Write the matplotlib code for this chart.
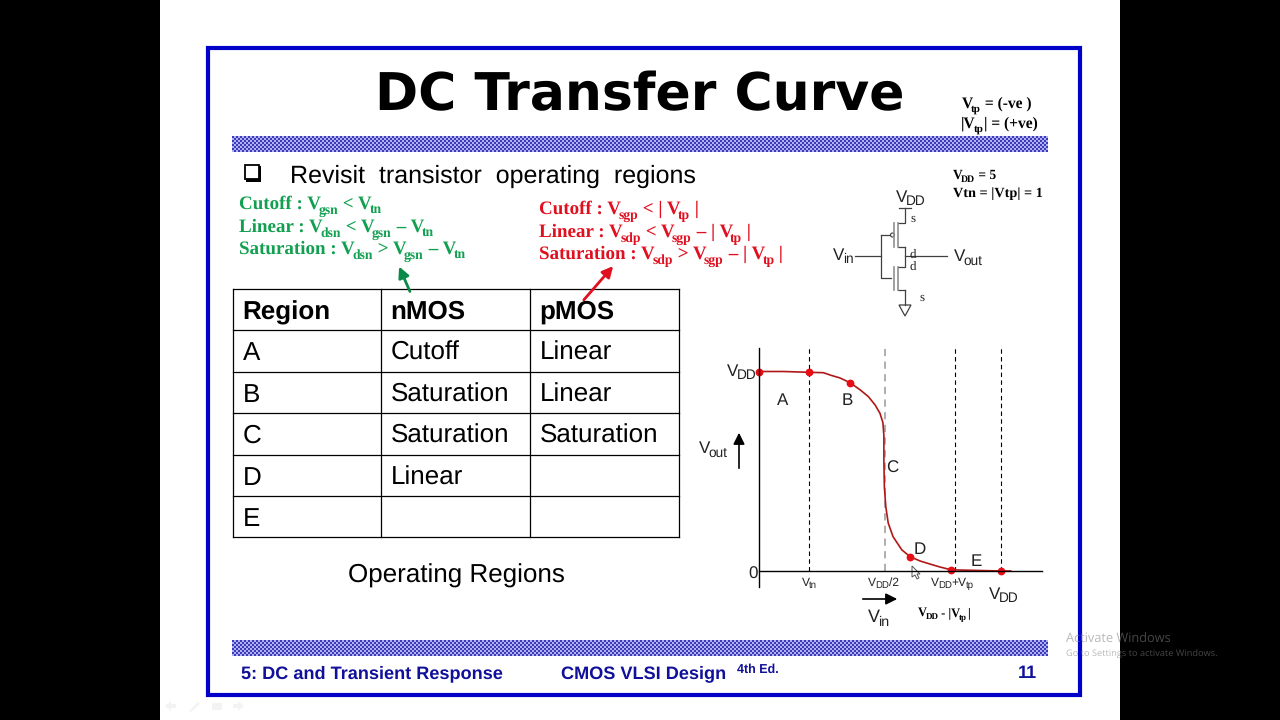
import numpy as np
import matplotlib
matplotlib.use("Agg")
import matplotlib.pyplot as plt
from matplotlib.colors import ListedColormap
from matplotlib.patches import Rectangle, Polygon, Circle

plt.rcParams["text.hinting"] = "no_hinting"

SANS = "Liberation Sans"
SERIF = "Liberation Serif"
BLUE = "#0000c8"
NAVY = "#10109a"
GREEN = "#12a050"
RED = "#e01020"
CURVE = "#b01818"

# table
table_header = ["Region", "nMOS", "pMOS"]
regions = ["A", "B", "C", "D", "E"]
nmos_state = ["Cutoff", "Saturation", "Saturation", "Linear", ""]
pmos_state = ["Linear", "Linear", "Saturation", "", ""]

# transfer curve, volts
vin = [0, 0.5, 1.04, 1.33, 1.5, 1.67, 1.88, 2.09, 2.26, 2.40, 2.50, 2.56, 2.58, 2.58, 2.59,
       2.62, 2.67, 2.77, 2.95, 3.12, 3.33, 3.53, 3.74, 3.97, 4.29, 5.01, 5.2]
vout = [5.0, 5.0, 4.98, 4.97, 4.90, 4.84, 4.72, 4.54, 4.37, 4.16, 3.95, 3.72, 3.40, 2.78, 2.11,
        1.61, 1.20, 0.86, 0.53, 0.36, 0.25, 0.175, 0.10, 0.03, 0.02, 0, 0]
dot_vin = [0, 1.04, 1.88, 3.12, 3.97, 5.01]
dot_vout = [5.0, 4.98, 4.72, 0.36, 0.03, 0]
guide_vin = [1.04, 2.6, 4.04, 5.01]
guide_colors = ["black", "#a8a8a8", "black", "black"]

nmos_rules = [
    [("Cutoff : V", 0), ("gsn", 1), (" < V", 0), ("tn", 1)],
    [("Linear : V", 0), ("dsn", 1), (" < V", 0), ("gsn", 1), (" \u2013 V", 0), ("tn", 1)],
    [("Saturation : V", 0), ("dsn", 1), (" > V", 0), ("gsn", 1), (" \u2013 V", 0), ("tn", 1)],
]
pmos_rules = [
    [("Cutoff : V", 0), ("sgp", 1), (" < | V", 0), ("tp", 1), (" |", 0)],
    [("Linear : V", 0), ("sdp", 1), (" < V", 0), ("sgp", 1), (" \u2013 | V", 0), ("tp", 1), (" |", 0)],
    [("Saturation : V", 0), ("sdp", 1), (" > V", 0), ("sgp", 1), (" \u2013 | V", 0), ("tp", 1), (" |", 0)],
]

fig = plt.figure(figsize=(12.8, 7.2), dpi=100, facecolor="black")
ax = fig.add_axes([0, 0, 1, 1])
ax.axis("off")


def px(size):
    return size * 0.72


def width_of(s, size, family, weight):
    r = fig.canvas.get_renderer()
    t = ax.text(0, 0, "." + s + ".", fontsize=px(size), family=family, weight=weight)
    w = t.get_window_extent(r).width
    t.set_text("..")
    w -= t.get_window_extent(r).width
    t.remove()
    return w


# text with subscripts, laid out piece by piece
def sub_text(x, y, parts, size, family=SERIF, weight="bold", color="black", sub=0.72, drop=0.25):
    for s, is_sub in parts:
        sz = size * sub if is_sub else size
        yy = y + size * drop if is_sub else y
        ax.text(x, yy, s, fontsize=px(sz), family=family, weight=weight, color=color, va="baseline")
        x += width_of(s, sz, family, weight)


# slide
ax.add_patch(Rectangle((160, 0), 960, 720, fc="white", ec="none"))
ax.add_patch(Rectangle((208, 48), 872, 647, fc="white", ec=BLUE, lw=3))

# dithered bands
checker = np.indices((8, 408)).sum(axis=0) % 2
dither = ListedColormap(["#3c3cb8", "#b0b0f2"])
for top in [136, 640]:
    ax.imshow(checker, cmap=dither, extent=(232, 1048, top + 16, top), aspect="auto",
              interpolation="nearest", zorder=1)
ax.set_xlim(0, 1280)
ax.set_ylim(720, 0)

ax.text(640, 110, "DC Transfer Curve", fontsize=px(52), family="DejaVu Sans", weight="bold",
        ha="center", va="baseline", color="black")

sub_text(962, 108, [("V", 0), ("tp", 1), (" = (-ve )", 0)], 15.5)
sub_text(961, 128, [("|V", 0), ("tp", 1), ("| = (+ve)", 0)], 15.5)
sub_text(953, 179, [("V", 0), ("DD", 1), (" = 5", 0)], 13.5)
ax.text(953, 197, "Vtn = |Vtp| = 1", fontsize=px(14.3), family=SERIF, weight="bold")

# bullet with its shadow
ax.add_patch(Rectangle((246, 166), 15, 16, fc="black", ec="none"))
ax.add_patch(Rectangle((244.5, 165), 14, 14, fc="white", ec="black", lw=1.3))
ax.text(290, 183, "Revisit  transistor  operating  regions", fontsize=px(25), family=SANS)

for i, rule in enumerate(nmos_rules):
    sub_text(239, [209, 232, 254][i], rule, 19, color=GREEN)
for i, rule in enumerate(pmos_rules):
    sub_text(539, [214, 237, 259][i], rule, 19, color=RED)

ax.annotate("", xy=(398, 264), xytext=(411, 294),
            arrowprops=dict(arrowstyle="-|>", color="#0a8a48", lw=2, mutation_scale=16))
ax.annotate("", xy=(615, 264), xytext=(582, 302),
            arrowprops=dict(arrowstyle="-|>", color=RED, lw=2, mutation_scale=16))

# table
col_x = [232.5, 380.5, 529.5, 678.5]
row_y = [288.5, 329.5, 371.5, 412.5, 454.5, 495.5, 536.5]
for x in col_x:
    ax.plot([x, x], [row_y[0], row_y[-1]], color="black", lw=0.9)
for y in row_y:
    ax.plot([col_x[0], col_x[-1]], [y, y], color="black", lw=0.9)
rows = [table_header] + [list(r) for r in zip(regions, nmos_state, pmos_state)]
for r, row in enumerate(rows):
    for c, cell in enumerate(row):
        ax.text(col_x[c] + 10, row_y[r] + 30.5, cell, fontsize=px(26), family=SANS,
                weight="bold" if r == 0 else "normal")
ax.text(456, 583, "Operating Regions", fontsize=px(26), family=SANS, ha="center")

# schematic
wires = [
    ([899, 911], [208, 208]), ([905, 905, 898], [208, 223, 223]), ([905, 905, 898], [247, 267, 267]),
    ([898, 905], [247, 247]), ([905, 905], [290, 305]), ([898, 905], [290, 290]),
    ([855, 881], [256, 256]), ([881, 881, 891], [235, 278, 278]), ([881, 890], [235, 235]),
    ([905, 947], [256, 256]),
]
for xs, ys in wires:
    ax.plot(xs, ys, color="#404040", lw=0.9)
for x in [894, 898]:
    ax.plot([x, x], [223, 247], color="#909090", lw=1.2)
    ax.plot([x, x], [267, 290], color="#909090", lw=1.2)
ax.add_patch(Circle((892.5, 235), 2, fc="white", ec="#404040", lw=0.8))
ax.add_patch(Polygon([[899, 305], [911, 305], [905, 316]], closed=True, fc="white", ec="#404040", lw=0.9))
label = dict(family=SANS, weight="normal", color="#222222", drop=0.2, sub=0.8)
sub_text(896, 202, [("V", 0), ("DD", 1)], 17, **label)
sub_text(833, 260, [("V", 0), ("in", 1)], 17, **label)
sub_text(954, 261, [("V", 0), ("out", 1)], 17, **label)
for x, y, s in [(910, 222, "s"), (910, 258, "d"), (910, 270, "d"), (919, 301, "s")]:
    ax.text(x, y, s, fontsize=px(13), family=SERIF, color="#222222")

# transfer curve axes
left, right, top, bottom = 759, 1042, 348, 587
vx = 48.4
vy = 39.9
cax = fig.add_axes([left / 1280, 1 - bottom / 720, (right - left) / 1280, (bottom - top) / 720])
cax.set_xlim(0, (right - left) / vx)
cax.set_ylim(-(bottom - 571) / vy, (571 - top) / vy)
cax.patch.set_alpha(0)
for side in ["top", "right"]:
    cax.spines[side].set_visible(False)
cax.spines["bottom"].set_position(("data", 0))
cax.spines["left"].set_linewidth(1)
cax.spines["bottom"].set_linewidth(1)
cax.set_xticks([])
cax.set_yticks([])
for v, col in zip(guide_vin, guide_colors):
    cax.plot([v, v], [0, (571 - top) / vy], color=col, lw=0.8 if col == "black" else 1.3, ls=(0, (4, 3)))
cax.plot(vin, vout, color=CURVE, lw=1.2, solid_joinstyle="round")
cax.plot(dot_vin, dot_vout, "o", color="#e80c14", ms=4.6, ls="none", clip_on=False)

for x, y, s in [(777, 405, "A"), (842, 405, "B"), (886, 473, "C"), (914, 554, "D"), (971, 566, "E")]:
    ax.text(x, y, s, fontsize=px(17), family=SANS, color="#222222")
ax.text(748, 579, "0", fontsize=px(17), family=SANS, color="#222222")

sub_text(727, 376, [("V", 0), ("DD", 1)], 17, **label)
sub_text(699, 453, [("V", 0), ("out", 1)], 17, **label)
sub_text(802, 586, [("V", 0), ("tn", 1)], 12, **label)
sub_text(868, 586, [("V", 0), ("DD", 1), ("/2", 0)], 12, **label)
sub_text(931, 586, [("V", 0), ("DD", 1), ("+V", 0), ("tp", 1)], 12, **label)
sub_text(989, 599, [("V", 0), ("DD", 1)], 17, **label)
sub_text(868, 622, [("V", 0), ("in", 1)], 18, **label)
sub_text(918, 616, [("V", 0), ("DD", 1), (" - |V", 0), ("tp", 1), ("|", 0)], 12.5)

ax.annotate("", xy=(739, 430), xytext=(739, 471),
            arrowprops=dict(arrowstyle="-|>", color="black", lw=1.2, mutation_scale=17))
ax.annotate("", xy=(900, 599), xytext=(860, 599),
            arrowprops=dict(arrowstyle="-|>", color="black", lw=1.2, mutation_scale=17))

# pointer
ax.add_patch(Polygon([[912, 566], [912, 577], [915, 575], [917, 579], [919, 578], [917, 574], [920, 574]],
                     closed=True, fc="white", ec="#555555", lw=0.7, zorder=6))

# footer
ax.text(241, 678, "5: DC and Transient Response", fontsize=px(18.2), family=SANS, weight="bold", color=NAVY)
ax.text(561, 678, "CMOS VLSI Design", fontsize=px(18.2), family=SANS, weight="bold", color=NAVY)
ax.text(737, 673, "4th Ed.", fontsize=px(12.5), family=SANS, weight="bold", color=NAVY)
ax.text(1037, 678, "11", fontsize=px(18.2), family=SANS, weight="bold", color=NAVY, ha="right")

# slideshow controls, barely visible
ctrl = "#f3f3f3"
ax.add_patch(Polygon([[165, 706], [171, 701], [171, 704], [176, 704], [176, 708], [171, 708], [171, 711]],
                     closed=True, fc=ctrl, ec="none"))
ax.add_patch(Polygon([[189, 711], [198, 702], [200, 704], [191, 712]], closed=True, fc=ctrl, ec="none"))
ax.add_patch(Rectangle((212, 703), 10, 7, fc=ctrl, ec="none"))
ax.add_patch(Polygon([[244, 706], [238, 701], [238, 704], [233, 704], [233, 708], [238, 708], [238, 711]],
                     closed=True, fc=ctrl, ec="none"))

# windows watermark
ax.text(1066, 643, "Activate Windows", fontsize=px(12.7), family="Open Sans", color="#808080", alpha=0.55, zorder=7)
ax.text(1066, 657, "Go to Settings to activate Windows.", fontsize=px(9.3), family="Open Sans", color="#808080",
        alpha=0.55, zorder=7)

fig.savefig("out.png", dpi=100, facecolor="black")
